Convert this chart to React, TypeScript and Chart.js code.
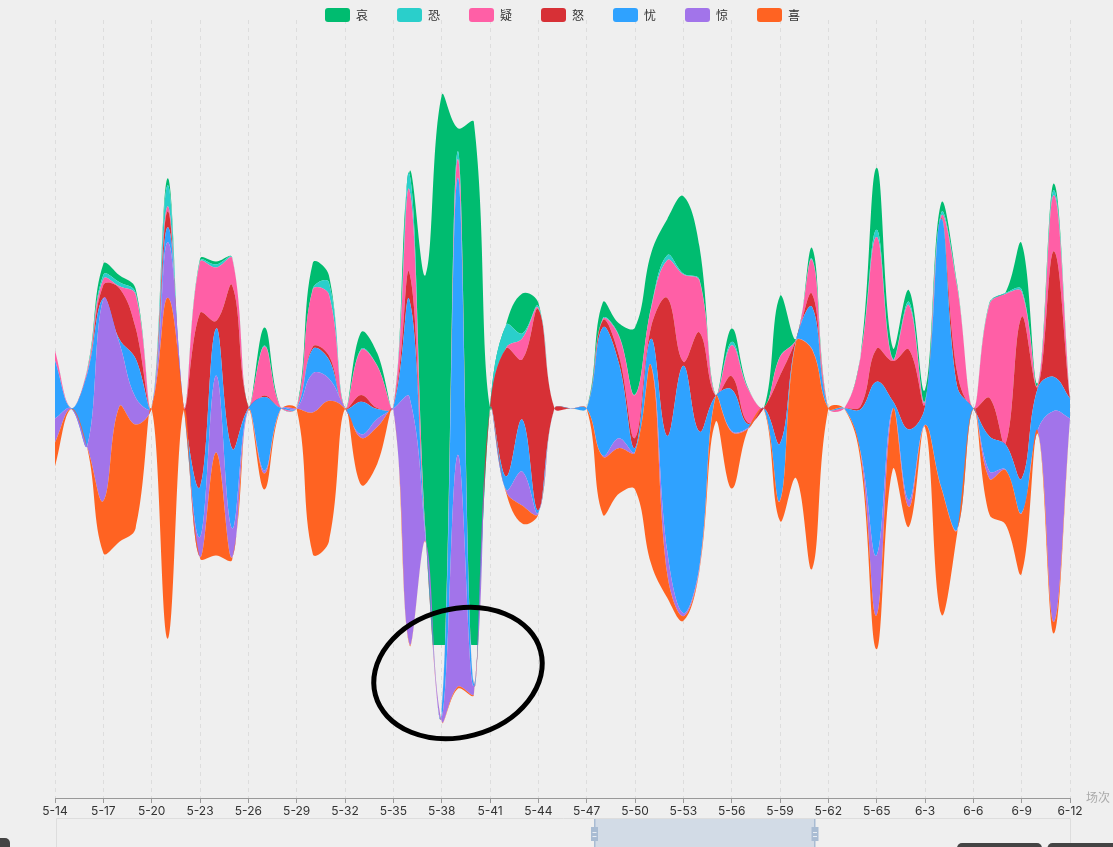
import React, { useEffect, useRef } from "react";
import { Chart, registerables } from "chart.js";

const categories = [
  "5-14","5-15","5-16","5-17","5-18","5-19","5-20","5-21","5-22","5-23","5-24","5-25","5-26","5-27","5-28","5-29",
  "5-30","5-31","5-32","5-33","5-34","5-35","5-36","5-37","5-38","5-39","5-40","5-41","5-42","5-43","5-44","5-45",
  "5-46","5-47","5-48","5-49","5-50","5-51","5-52","5-53","5-54","5-55","5-56","5-57","5-58","5-59","5-60","5-61",
  "5-62","5-63","5-64","5-65","6-1","6-2","6-3","6-4","6-5","6-6","6-7","6-8","6-9","6-10","6-11","6-12",
];

const xi = [24,0,0.5,52,135.5,104,1.5,341,2,1,103,2,1,16,0.5,0.3,141.6,141,0.3,47,37,0.5,1,0.5,0.5,2,1,0.3,1.5,18,0.5,0.1,0.1,0.1,58,45.7,37,198,24,4.7,2,25,56.6,1,0.5,20,137,219,0.5,0.3,8,34,60,20,2,126.6,3,0.2,35.7,54.4,60,3,11.6,0.2];
const jing = [24,0.5,1.5,202,63,27,0.2,55.5,0.2,20,77,29,0.5,3,0.3,0.2,39,22.4,0.1,3.4,8,1,247,4,3,232,8,0.3,1.5,34,1,0.1,0.1,0.1,1,10,0.7,0.5,23,3,2,0.3,1,1,0.1,0.5,0.3,0.5,0.1,0.1,1,60,0.7,6.7,0.3,0.5,0.7,0.1,7.6,0.6,0.7,1,211,0.5];
const you = [58,0.5,72,1,4,39,0.2,15,0.2,50,47,80,1,73.5,1.5,0.2,24.4,19,0.3,32.6,10,1,97,3.5,4,277,2,0.4,13.3,52,2.5,0.1,0.3,0.4,128,75,3.7,26.5,115,247.3,135,0.5,41.4,4,0.3,57,0.7,42,0.2,0.3,43,173.7,7.5,70.7,18,268,143,0.3,35,25,34.3,42,34,20];
const nu = [0,0,0,13,51,31,0.2,16,0.2,174,7.5,163,1.5,1.5,0.2,0,2.3,4,0.1,6.7,1,0.5,27,0.5,0.5,0.5,0.5,1,128,60,201,0.4,0.1,0.1,7,8,10,12,138,4,99,0.5,13.3,1.7,0.4,68,0.5,13,0.1,0.1,3,33,40,80,3,0.5,14,0.1,38.4,0.5,161.6,1,125.7,0.5];
const yi = [10,0,3,6,2,33,0.2,5,0.2,51,53.5,27,0.5,49,0.5,0.2,57,61,0.1,45,42,0.5,83,1,0.5,18,0.5,0.1,0.5,21,1,0.1,0,0,1,19,43,18.7,37.7,87.4,52,0.3,31,34,0.2,18.5,0.5,34,0.1,0.1,49,111.6,1.7,44.3,2,1.7,85,0.1,93.3,150,25,2,56,0.1];
const kong = [0,0,1,4,4,2,0.1,21,0.1,1,3,0.5,0,1,0.1,0,1,12,0,1,0.5,0.1,16,0.5,0.5,8,0.5,0.1,23,5,2,0,0,0,1,1,0.5,1,5,1,1,0.1,3.3,0.5,0,0.5,0.2,1,0,0,1,7.4,1,3.3,1,3.4,1,0.1,1,1,2.4,0.5,5,0];
const ai = [0,0,0.5,11,7,4,0.1,7,0.1,2,3,0.5,0,18,0.1,0.1,25.7,7.3,0,16.7,12.5,0.1,2,257,617,23,560,0.1,0.5,40,3.5,0,0,0,16,12,67,54,36,77.3,33,0.1,13.4,1,0,60.7,0.2,11,0,0,0.5,62,10.7,11.7,11,10,2.5,0.1,1,0.5,46,1.5,6.7,0];

const seriesNames = ["喜", "惊", "忧", "怒", "疑", "恐", "哀"];
const seriesValues = [xi, jing, you, nu, yi, kong, ai];
const seriesColors = ["#FF6322", "#A274EA", "#2FA2FF", "#D73036", "#FF5FA6", "#2ACFCB", "#00BC70"];
const axisName = "场次";

const BG = "#EFEFEF";
const CENTER = 389.5;
const uiFont = '"Noto Sans CJK SC", "Liberation Sans", sans-serif';

// registered ahead of the Filler so its clip wraps the fill of 哀
const stemClip = {
  id: "stemClip",
  beforeDatasetDraw(chart: any, args: any) {
    if (chart.data.datasets[args.index].label !== "哀") return;
    const ctx = chart.ctx;
    ctx.save();
    ctx.beginPath();
    ctx.rect(0, 0, chart.width, 645);
    ctx.clip();
  },
  afterDatasetDraw(chart: any, args: any) {
    if (chart.data.datasets[args.index].label !== "哀") return;
    chart.ctx.restore();
  },
};

Chart.register(stemClip, ...registerables);

const decorations = {
  id: "decorations",
  afterLayout(chart: any) {
    // the legend clips to its own box: let the swatches keep their full height
    chart.legend.bottom = 40;
  },
  afterDraw(chart: any) {
    const ctx = chart.ctx;
    ctx.save();
    // axis name
    ctx.fillStyle = "#AAAAAA";
    ctx.font = `12px ${uiFont}`;
    ctx.textAlign = "left";
    ctx.textBaseline = "middle";
    ctx.fillText(axisName, 1086, 797);
    // hand-drawn ring
    ctx.strokeStyle = "#000";
    ctx.lineWidth = 5;
    ctx.beginPath();
    ctx.ellipse(458, 673, 85.5, 64, -0.26, 0, Math.PI * 2);
    ctx.stroke();
    // zoom slider
    ctx.strokeStyle = "#DDDDDD";
    ctx.lineWidth = 1;
    ctx.beginPath();
    ctx.moveTo(56.5, 847);
    ctx.lineTo(56.5, 818.5);
    ctx.lineTo(1070.5, 818.5);
    ctx.lineTo(1070.5, 847);
    ctx.stroke();
    ctx.fillStyle = "#D2DBE6";
    ctx.fillRect(594, 819, 221, 28);
    ctx.fillStyle = "#A9BCD3";
    ctx.fillRect(594, 819, 1.5, 28);
    ctx.fillRect(814, 819, 1.5, 28);
    for (const hx of [591, 811.5]) {
      ctx.fillStyle = "#A9BCD3";
      ctx.fillRect(hx, 827, 7, 14);
      ctx.fillStyle = "#E8EDF3";
      ctx.fillRect(hx + 1.5, 832, 4, 1);
      ctx.fillRect(hx + 1.5, 836, 4, 1);
    }
    // overlapping dark chips at the page edge
    ctx.fillStyle = "#444444";
    for (const [x, y, w, h] of [[957, 843, 85, 14], [1047.5, 843, 80, 14], [-10, 838, 20, 20]]) {
      ctx.beginPath();
      ctx.roundRect(x, y, w, h, 5);
      ctx.fill();
    }
    ctx.restore();
  },
};

export default function App() {
  const ref = useRef<HTMLCanvasElement>(null);
  useEffect(() => {
    const totals = categories.map((_, i) => seriesValues.reduce((s, v) => s + v[i], 0));
    const baseline = totals.map((t) => CENTER - t / 2);
    const chart = new Chart(ref.current as HTMLCanvasElement, {
      type: "line",
      data: {
        labels: categories,
        datasets: [
          { label: "base", data: baseline, borderWidth: 0, pointRadius: 0, fill: false, tension: 0.4 },
          ...seriesNames.map((name, k) => ({
            label: name,
            data: seriesValues[k],
            backgroundColor: seriesColors[k],
            borderColor: "transparent",
            borderWidth: 0,
            pointRadius: 0,
            fill: "-1",
            tension: 0.4,
          })),
        ],
      },
      options: {
        responsive: false,
        animation: false,
        events: [],
        layout: { padding: { left: 55, right: 43, top: -21, bottom: 0 } },
        plugins: {
          tooltip: { enabled: false },
          legend: {
            position: "top",
            reverse: true,
            maxHeight: 41,
            labels: {
              boxWidth: 25,
              boxHeight: 14,
              padding: 29,
              useBorderRadius: true,
              borderRadius: 3,
              color: "#333333",
              font: { size: 12, family: uiFont },
              filter: (item: any) => item.text !== "base",
            },
          },
        },
        scales: {
          x: {
            afterFit: (s: any) => { s.height = 49; },
            ticks: {
              autoSkip: false,
              maxRotation: 0,
              minRotation: 0,
              padding: 1,
              color: "#333333",
              font: { size: 12, family: '"Inter", "Liberation Sans", sans-serif' },
              callback: (_: any, i: number) => (i % 3 === 0 ? categories[i] : ""),
            },
            grid: {
              color: (c: any) => (c.index % 3 === 0 ? "#DDDDDD" : "transparent"),
              tickColor: (c: any) => (c.index % 3 === 0 ? "#999999" : "transparent"),
              tickLength: 5,
            },
            border: { display: true, color: "#999999", dash: [4, 4] },
          },
          y: { display: false, stacked: true, min: 0, max: 778 },
        },
      },
      plugins: [decorations],
    } as any);
    return () => chart.destroy();
  }, []);
  return (
    <div style={{ position: "fixed", left: 0, top: 0, width: 1113, height: 847, background: BG, overflow: "hidden" }}>
      <canvas ref={ref} width={1113} height={847} style={{ display: "block", width: 1113, height: 847 }} />
    </div>
  );
}
